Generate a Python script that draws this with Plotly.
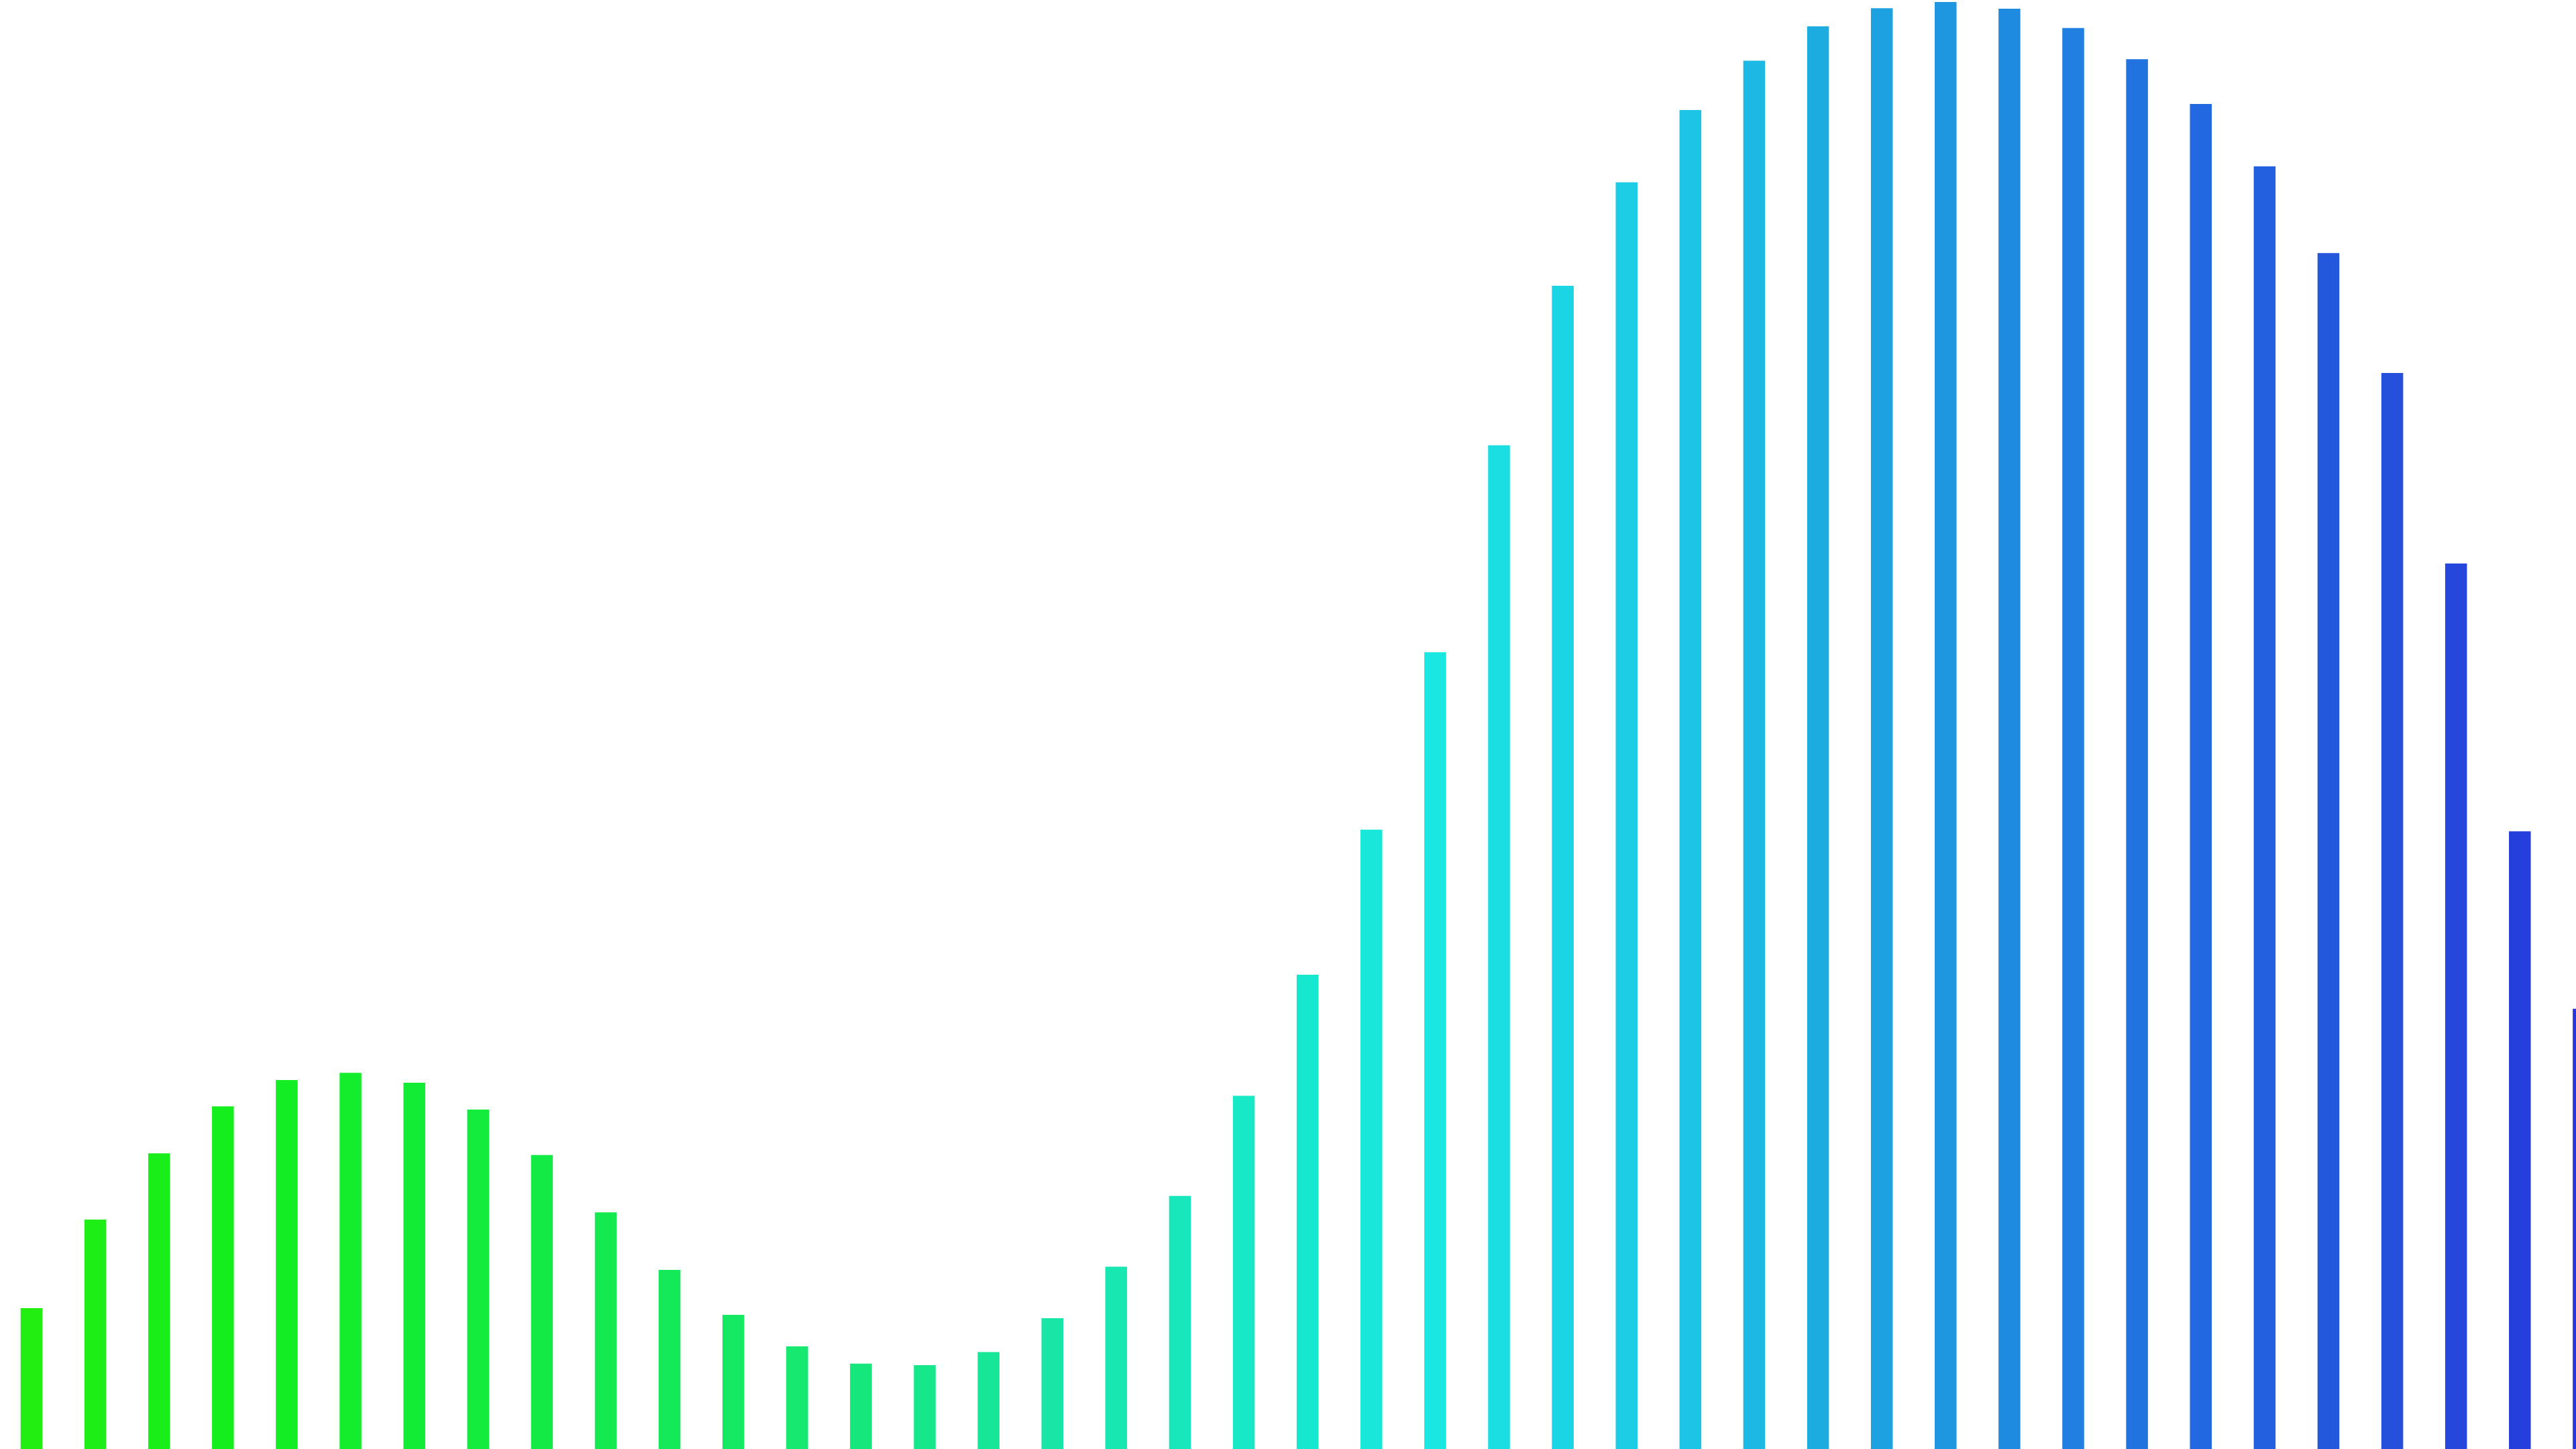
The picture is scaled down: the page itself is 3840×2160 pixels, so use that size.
import plotly.graph_objects as go

# bar heights (full height of the chart = 882)
values = [
    85.7, 139.6, 180, 208.6, 224.6, 229, 223, 206.6, 179, 144,
    109, 81.7, 62.5, 52, 51, 59, 79.6, 111, 154, 215,
    288.7, 377, 485, 611, 708, 771, 815, 845, 866, 877,
    880.8, 876.7, 865, 846, 818.7, 780.7, 728, 655, 539, 376,
    268,
]
positions = list(range(len(values)))

GRADIENT = [
    [0.0, "#22ee11"],
    [0.075, "#14ee1c"],
    [0.15, "#12ec34"],
    [0.275, "#15e862"],
    [0.4, "#18e6a6"],
    [0.5, "#16e8d0"],
    [0.55, "#1ae6e2"],
    [0.65, "#1ec4e6"],
    [0.7, "#1cace0"],
    [0.75, "#1e96e0"],
    [0.85, "#2268e0"],
    [0.925, "#2450dc"],
    [1.0, "#2636dc"],
]

trace = go.Bar(
    x=positions,
    y=values,
    width=0.342,
    marker=dict(
        color=positions,
        colorscale=GRADIENT,
        cmin=0,
        cmax=len(values) - 1,
        line=dict(width=0),
    ),
    showlegend=False,
)

layout = go.Layout(
    xaxis=dict(range=[-0.494, 39.88], visible=False, showgrid=False, zeroline=False),
    yaxis=dict(range=[0, 882], visible=False, showgrid=False, zeroline=False),
    plot_bgcolor="white",
    paper_bgcolor="white",
    margin=dict(l=0, r=0, t=0, b=0),
    width=3840,
    height=2160,
)

fig = go.Figure(data=[trace], layout=layout)
fig.write_html(
    "out.html",
    config={"displayModeBar": False},
    post_script="document.body.style.margin='0';document.body.style.overflow='hidden';",
)
